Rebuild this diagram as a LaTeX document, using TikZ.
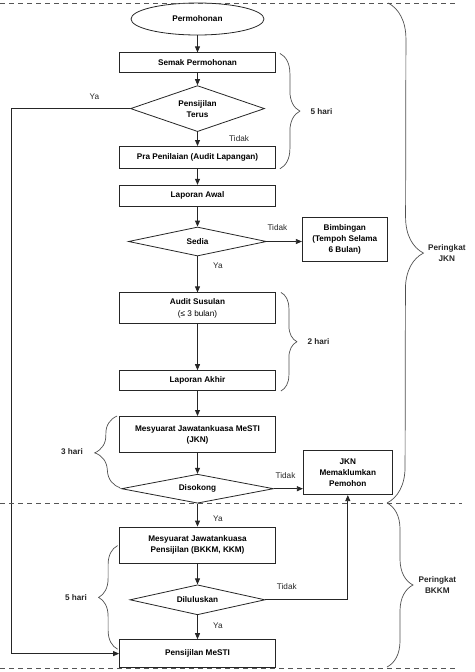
\documentclass[tikz,border=0pt]{standalone}
\usepackage{fontspec}
\setmainfont{Liberation Sans}
\usepackage{tikz}
\usetikzlibrary{arrows.meta,positioning,calc,decorations.pathreplacing,shapes.geometric}
\definecolor{cLine}{HTML}{262626}
\definecolor{cBrace}{HTML}{505050}
\definecolor{cSep}{HTML}{555555}
\newcommand{\fs}{\fontsize{8.2}{11}\selectfont}
\tikzset{
  blk/.style={draw=cLine, line width=0.8pt, fill=white, minimum width=156pt,
              inner sep=2pt, font=\fs\bfseries, align=center},
  sideblk/.style={blk, minimum width=0pt},
  decblk/.style={diamond, aspect=3, draw=cLine, line width=0.8pt, fill=white,
                 inner sep=1pt, font=\fs\bfseries, align=center},
  startblk/.style={ellipse, draw=cLine, line width=0.8pt, minimum width=133pt,
                   minimum height=32pt, font=\fs\bfseries},
  arr/.style={-{Triangle[length=6pt,width=5pt]}, line width=0.8pt, cLine},
  lbl/.style={font=\fs, text=cLine},
  brc/.style={decorate, decoration={brace, amplitude=#1}, line width=0.7pt, cBrace},
  brlbl/.style={font=\fs\bfseries, text=cLine, align=center},
  divline/.style={cSep, line width=0.7pt, dash pattern=on 5pt off 4pt}
}

\begin{document}
\begin{tikzpicture}[x=1pt, y=1pt, node distance=12pt]
\useasboundingbox (0,0) rectangle (474,-672);
% JKN stage
\node[startblk] (perm) at (197.5,-19) {Permohonan};
\node[blk, minimum height=20pt, below=17pt of perm] (semak) {Semak Permohonan};
\node[decblk, minimum width=134pt, minimum height=46pt, below=12pt of semak] (terus) {Pensijilan\\Terus};
\node[blk, minimum height=22pt, below=14pt of terus] (pra) {Pra Penilaian (Audit Lapangan)};
\node[blk, minimum height=21pt, below=16pt of pra] (awal) {Laporan Awal};
\node[decblk, minimum width=138pt, minimum height=29pt, below=20pt of awal] (sedia) {Sedia};
\node[sideblk, minimum width=85pt, minimum height=44pt, right=35pt of sedia, yshift=2pt] (bimb) {Bimbingan\\(Tempoh Selama\\6 Bulan)};
\node[blk, minimum height=31pt, below=36pt of sedia] (audit) {Audit Susulan\\[1pt]{\mdseries (≤ 3 bulan)}};
\node[blk, minimum height=20pt, below=46pt of audit] (akhir) {Laporan Akhir};
\node[blk, minimum height=36pt, below=25pt of akhir] (mesyjkn) {Mesyuarat Jawatankuasa MeSTI\\(JKN)};
\node[decblk, minimum width=152pt, minimum height=29pt, below=21pt of mesyjkn] (disokong) {Disokong};
\node[sideblk, minimum width=89pt, minimum height=44pt, right=29pt of disokong, yshift=16pt] (jkn) {JKN\\Memaklumkan\\Pemohon};
% BKKM stage
\node[blk, minimum height=36pt, below=23pt of disokong] (mesybkkm) {Mesyuarat Jawatankuasa\\Pensijilan (BKKM, KKM)};
\node[decblk, minimum width=135pt, minimum height=30pt, below=21pt of mesybkkm] (lulus) {Diluluskan};
\node[blk, minimum height=28pt, below=24pt of lulus] (mesti) {Pensijilan MeSTI};
% connectors
\draw[arr] (perm) -- (semak);
\draw[arr] (semak) -- (terus);
\draw[arr] (terus) -- (pra) node[midway, right=28pt, lbl]{Tidak};
\draw[arr] (terus.west) -- ++(-119,0) node[pos=0.3, above=5pt, lbl]{Ya} |- (mesti.west);
\draw[arr] (pra) -- (awal);
\draw[arr] (awal) -- (sedia);
\draw[arr] (sedia.east) -- (sedia.east -| bimb.west) node[pos=0.3, above=7pt, lbl]{Tidak};
\draw[arr] (sedia) -- (audit) node[pos=0.25, right=12pt, lbl]{Ya};
\draw[arr] (audit) -- (akhir);
\draw[arr] (akhir) -- (mesyjkn);
\draw[arr] (mesyjkn) -- (disokong);
\draw[arr] (disokong.east) -- (disokong.east -| jkn.west) node[pos=0.4, above=6pt, lbl]{Tidak};
\draw[arr] (disokong) -- (mesybkkm) node[pos=0.65, right=12pt, lbl]{Ya};
\draw[arr] (mesybkkm) -- (lulus);
\draw[arr] (lulus.east) -| (jkn.south) node[pos=0.13, above=6pt, lbl]{Tidak};
\draw[arr] (lulus) -- (mesti) node[pos=0.45, right=12pt, lbl]{Ya};
% stage separators and braces
\coordinate (jtop) at (388,-3);
\coordinate (jbot) at (387,-503);
\coordinate (bbot) at (387,-667);
\draw[divline] (0,-3) -- (458,-3);
\draw[divline] (0,-503) -- (462,-503);
\draw[divline] (0,-668) -- (458,-668);
\draw[brc=36pt] (jtop) -- (jbot) node[midway, right=37pt, brlbl]{Peringkat\\JKN};
\draw[brc=26pt] (jbot) -- (bbot) node[midway, right=28pt, brlbl]{Peringkat\\BKKM};
\draw[brc=20pt] ($(semak.north east)+(4,-1)$) -- ($(pra.south east)+(4,0)$) node[midway, right=27pt, brlbl]{5 hari};
\draw[brc=16pt] ($(audit.north east)+(5,0)$) -- ($(akhir.south east)+(5,0)$) node[midway, right=23pt, brlbl]{2 hari};
\draw[brc=24pt] ($(disokong.west)+(-1,1)$) -- ($(mesyjkn.north west)+(-2,0)$) node[midway, left=32pt, brlbl]{3 hari};
\draw[brc=19pt] ($(mesti.north west)+(-1.5,-10)$) -- ($(mesybkkm.north west)+(-1.5,-19)$) node[midway, left=27pt, brlbl]{5 hari};
\end{tikzpicture}
\end{document}
